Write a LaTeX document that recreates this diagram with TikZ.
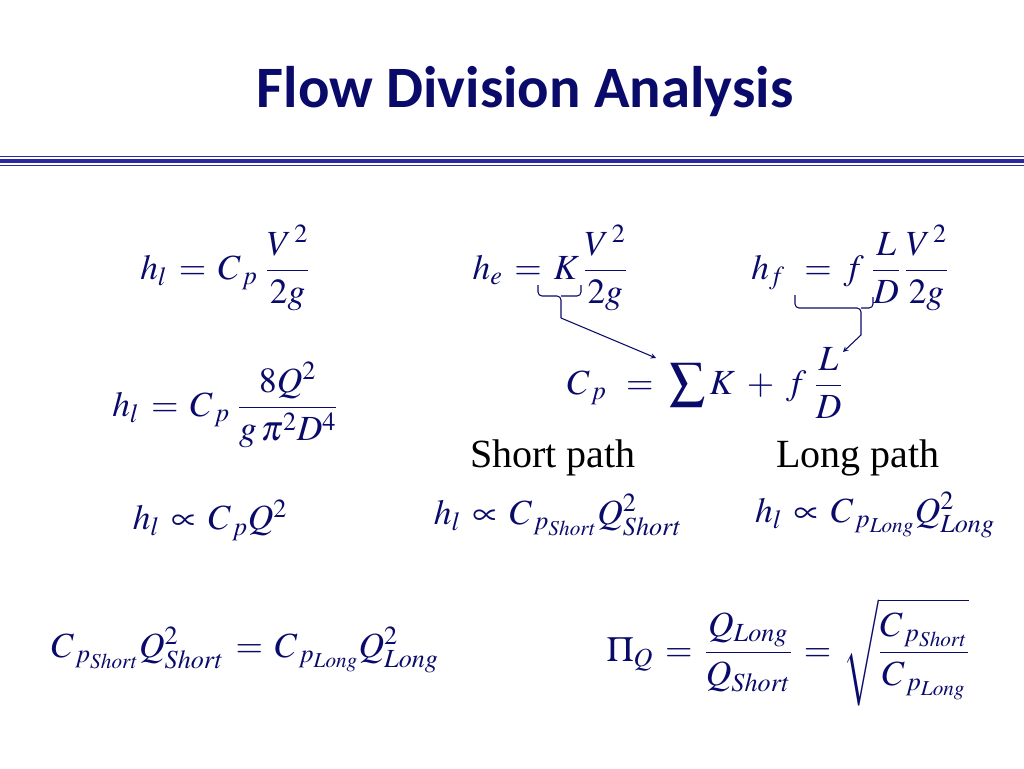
\documentclass[tikz,border=0pt]{standalone}
\usepackage{mathptmx}
\usepackage[no-math]{fontspec}
\setmainfont{Liberation Serif}
\newfontfamily\titlefont{Carlito}
\definecolor{navy}{HTML}{0A0A6A}
\definecolor{rule}{HTML}{2A2AA0}
\newcommand{\gapsp}{\;\,}
\begin{document}
\begin{tikzpicture}[x=0.75pt,y=-0.75pt,
  eq/.style={text=navy,font=\fontsize{26.5}{30}\selectfont,inner sep=0pt},
  lbl/.style={text=black,font=\fontsize{30}{34}\selectfont,inner sep=0pt},
  br/.style={draw=navy,line width=0.8pt,rounded corners=3pt},
  ar/.style={draw=navy,line width=0.8pt,-stealth}]
\useasboundingbox (0,0) rectangle (1024,768);
\node[text=navy,font=\titlefont\bfseries\fontsize{44}{50}\selectfont] (title) at (525,92) {Flow Division Analysis};
\draw[rule,line width=0.8pt] (0,156.5) -- (1024,156.5);
\draw[rule,line width=2.4pt] (0,161) -- (1024,161);
\draw[rule,line width=0.8pt] (0,165.5) -- (1024,165.5);

\node[eq] (e1) at (225,268) {$\displaystyle h_l\gapsp{=}\gapsp C_{\,p}\;\frac{V^{\,2}}{2g}$};
\node[eq] (e2) at (225,405) {$\displaystyle h_l\gapsp{=}\gapsp C_{\,p}\;\frac{8Q^2}{g\,\pi^2D^4}$};
\node[eq] (e3) at (210,520) {$h_l\gapsp{\propto}\gapsp C_{\,p}Q^2$};
\node[eq] (he) at (550,268) {$\displaystyle h_e\gapsp{=}\gapsp K\,\frac{V^{\,2}}{2g}$};
\node[eq] (hf) at (850,268) {$\displaystyle h_f\;\gapsp{=}\gapsp f\;\frac{L}{D}\,\frac{V^{\,2}}{2g}$};
\node[eq] (cp) at (705,383) {$\displaystyle C_{\,p}\;\gapsp{=}\gapsp \sum K \gapsp{+}\gapsp f\;\frac{L}{D}$};
\node[lbl] (sp) at (553,458) {Short path};
\node[lbl] (lp) at (858,458) {Long path};
\node[eq] (es) at (558,515) {$h_l\gapsp{\propto}\gapsp C_{\,p_{Short}}Q^2_{Short}$};
\node[eq] (el) at (875,515) {$h_l\gapsp{\propto}\gapsp C_{\,p_{Long}}Q^2_{Long}$};
\node[eq] (eb) at (245,650) {$C_{\,p_{Short}}Q^2_{Short}\gapsp{=}\gapsp C_{\,p_{Long}}Q^2_{Long}$};
\node[eq] (pi) at (788,652) {$\displaystyle \Pi_Q\gapsp{=}\gapsp \frac{Q_{Long}}{Q_{Short}}\gapsp{=}\gapsp \sqrt{\frac{C_{\,p_{Short}}}{C_{\,p_{Long}}}}$};

\coordinate (b1) at (561,318);
\coordinate (b2) at (861,335);
\draw[br] (538,285) -- (538,296) -- (561,296) -- (b1);
\draw[br] (561,296) -- (581,296) -- (581,285);
\draw[br] (795,295) -- (795,308) -- (861,308) -- (b2);
\draw[br] (861,308) -- (873,308) -- (873,297);
\draw[ar] (b1) -- (656,358);
\draw[ar] (b2) -- (843,352);
\end{tikzpicture}
\end{document}
